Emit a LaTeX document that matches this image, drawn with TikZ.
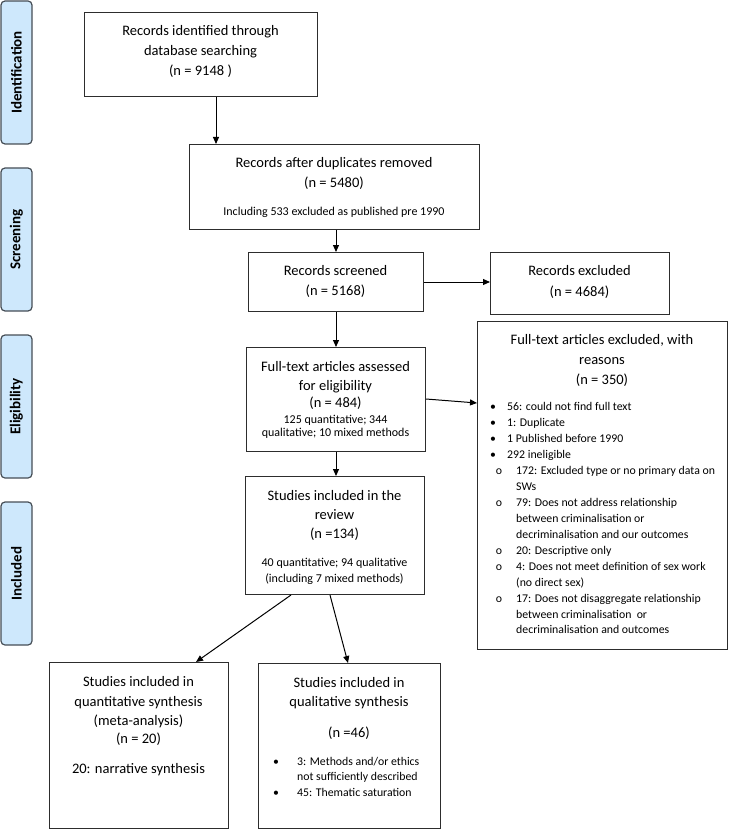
\documentclass[tikz,border=0pt]{standalone}
\usepackage{fontspec}
\setmainfont{Carlito}
\usetikzlibrary{arrows.meta,calc}
\definecolor{barfill}{RGB}{206,232,252}
\definecolor{bardraw}{RGB}{70,78,86}
\definecolor{boxdraw}{RGB}{45,45,45}
\begin{document}
\begin{tikzpicture}[x=1pt,y=-1pt,
  box/.style={draw=boxdraw, line width=1pt, inner sep=0pt, anchor=north west},
  bar/.style={draw=bardraw, fill=barfill, line width=1.2pt, rounded corners=4pt, inner sep=0pt,
    minimum width=143pt, minimum height=31pt, rotate=90, font=\fontsize{15}{18}\selectfont\bfseries},
  big/.style={inner sep=0pt, anchor=base, font=\fontsize{14.5}{20}\selectfont},
  small/.style={inner sep=0pt, anchor=base, font=\fontsize{12}{15}\selectfont},
  lst/.style={inner sep=0pt, anchor=base west, font=\fontsize{11.8}{15}\selectfont},
  bul/.style={inner sep=0pt, anchor=base, font=\fontsize{11.8}{15}\selectfont},
  arr/.style={draw=black, line width=1pt, -{Triangle[length=7pt,width=6pt]}}]
\useasboundingbox (0,0) rectangle (729,829);

% phase bars
\node[bar] (p1) at (16.5,72.5) {Identification};
\node[bar] (p2) at (16.5,239.5) {Screening};
\node[bar] (p3) at (16.5,406.5) {Eligibility};
\node[bar] (p4) at (16.5,573.5) {Included};

% boxes
\node[box, minimum width=233pt, minimum height=84pt] (b1) at (84,12) {};
\node[box, minimum width=290pt, minimum height=85pt] (b2) at (189,144) {};
\node[box, minimum width=175pt, minimum height=59pt] (b3) at (248,252) {};
\node[box, minimum width=179pt, minimum height=62pt] (rex) at (490,252) {};
\node[box, minimum width=179pt, minimum height=104pt] (b4) at (246,347) {};
\node[box, minimum width=250pt, minimum height=328pt] (ftx) at (477,321) {};
\node[box, minimum width=179pt, minimum height=118pt] (b5) at (245,476) {};
\node[box, minimum width=179pt, minimum height=166pt] (b6) at (49,662) {};
\node[box, minimum width=182pt, minimum height=165pt] (b7) at (258,663) {};

% box 1
\node[big] (t11) at (200.5,35.5) {Records identified through};
\node[big] (t12) at (200.5,55.5) {database searching};
\node[big] (t13) at (200.5,75.5) {(n = 9148 )};
% box 2
\node[big] (t21) at (334,167.5) {Records after duplicates removed};
\node[big] (t22) at (334,187.5) {(n = 5480)};
\node[small] (t23) at (334,215) {Including 533 excluded as published pre 1990};
% box 3
\node[big] (t31) at (335.5,275.5) {Records screened};
\node[big] (t32) at (335.5,295.5) {(n = 5168)};
% records excluded
\node[big] (tr1) at (579.5,275.5) {Records excluded};
\node[big] (tr2) at (579.5,296.5) {(n = 4684)};
% box 4
\node[big] (t41) at (335.5,371.5) {Full-text articles assessed};
\node[big] (t42) at (335.5,390.5) {for eligibility};
\node[big] (t43) at (335.5,407.5) {(n = 484)};
\node[small] (t44) at (335.5,423) {125 quantitative; 344};
\node[small] (t45) at (335.5,436) {qualitative; 10 mixed methods};
% full-text excluded
\node[big] (tf1) at (602,344.5) {Full-text articles excluded, with};
\node[big] (tf2) at (602,364.5) {reasons};
\node[big] (tf3) at (602,384.5) {(n = 350)};
\node[bul] (fb1) at (493,410.7) {•};
\node[lst] (fl1) at (507,410.7) {56: could not find full text};
\node[bul] (fb2) at (493,426.7) {•};
\node[lst] (fl2) at (507,426.7) {1: Duplicate};
\node[bul] (fb3) at (493,442.7) {•};
\node[lst] (fl3) at (507,442.7) {1 Published before 1990};
\node[bul] (fb4) at (493,458.7) {•};
\node[lst] (fl4) at (507,458.7) {292 ineligible};
\node[bul] (fb5) at (499,474.7) {o};
\node[lst] (fl5) at (516,474.7) {172: Excluded type or no primary data on};
\node[lst] (fl6) at (516,490.7) {SWs};
\node[bul] (fb7) at (499,506.7) {o};
\node[lst] (fl7) at (516,506.7) {79: Does not address relationship};
\node[lst] (fl8) at (516,522.7) {between criminalisation or};
\node[lst] (fl9) at (516,538.7) {decriminalisation and our outcomes};
\node[bul] (fb10) at (499,554.7) {o};
\node[lst] (fl10) at (516,554.7) {20: Descriptive only};
\node[bul] (fb11) at (499,570.7) {o};
\node[lst] (fl11) at (516,570.7) {4: Does not meet definition of sex work};
\node[lst] (fl12) at (516,586.7) {(no direct sex)};
\node[bul] (fb13) at (499,602.7) {o};
\node[lst] (fl13) at (516,602.7) {17: Does not disaggregate relationship};
\node[lst] (fl14) at (516,618) {between criminalisation\ \ or};
\node[lst] (fl15) at (516,633.3) {decriminalisation and outcomes};
% box 5
\node[big] (t51) at (334.5,500.5) {Studies included in the};
\node[big] (t52) at (334.5,519.5) {review};
\node[big] (t53) at (334.5,538.5) {(n =134)};
\node[small] (t54) at (334.5,566) {40 quantitative; 94 qualitative};
\node[small] (t55) at (334.5,582) {(including 7 mixed methods)};
% box 6
\node[big] (t61) at (138.5,686.5) {Studies included in};
\node[big] (t62) at (138.5,706.5) {quantitative synthesis};
\node[big] (t63) at (138.5,725.5) {(meta-analysis)};
\node[big] (t64) at (138.5,743.5) {(n = 20)};
\node[big] (t65) at (138.5,773.5) {20: narrative synthesis};
% box 7
\node[big] (t71) at (349,687.5) {Studies included in};
\node[big] (t72) at (349,706.5) {qualitative synthesis};
\node[big] (t73) at (349,737.5) {(n =46)};
\node[bul] (qb1) at (276,765) {•};
\node[lst] (ql1) at (297,765) {3: Methods and/or ethics};
\node[lst] (ql2) at (297,780) {not sufficiently described};
\node[bul] (qb3) at (276,796) {•};
\node[lst] (ql3) at (297,796) {45: Thematic saturation};

% connector helper coordinates
\coordinate (xa) at (216,0);
\coordinate (xc) at (336,0);
\coordinate (x5a) at (291,0);
\coordinate (x6) at (196,0);
\coordinate (x5b) at (330,0);
\coordinate (x7) at (348,0);
\coordinate (y4) at (0,399);
\coordinate (yf) at (0,403);

% connectors
\draw[arr] (b1.south -| xa) -- (b2.north -| xa);
\draw[arr] (b2.south -| xc) -- (b3.north -| xc);
\draw[arr] (b3.east) -- (b3.east -| rex.west);
\draw[arr] (b3.south -| xc) -- (b4.north -| xc);
\draw[arr] (b4.east |- y4) -- (ftx.west |- yf);
\draw[arr] (b4.south -| xc) -- (b5.north -| xc);
\draw[arr] (b5.south -| x5a) -- (b6.north -| x6);
\draw[arr] (b5.south -| x5b) -- (b7.north -| x7);
\end{tikzpicture}
\end{document}
